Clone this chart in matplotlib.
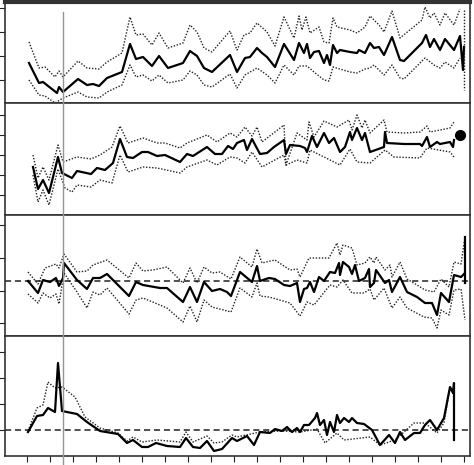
import matplotlib
matplotlib.use("Agg")
import matplotlib.pyplot as plt
from matplotlib.lines import Line2D

# ---- data (x position, y position in chart units) ----
p1_mid_x = [29,39,43,57,59,63,78,87,93,99,107,122,130,136,143,152,159,168,183,190,197,204,212,230,237,245,250,257,262,267,275,284,294,299,304,307,310,314,319,324,327,330,333,337,340,350,357,359,365,370,374,379,384,392,400,404,422,426,430,434,440,445,454,460,463,464]
p1_mid_y = [63,83,82,93,87,92,79,85,84,86,78,72,44,59,57,66,56,68,63,51,56,68,72,55,72,58,57,48,53,57,67,44,60,43,53,44,58,52,51,63,55,65,45,53,50,52,53,50,53,43,48,47,55,37,60,61,43,35,47,39,50,39,50,36,70,47]
p1_up_x = [29,39,45,55,59,63,78,87,99,107,122,130,136,143,152,159,168,183,190,197,204,212,230,237,244,250,257,267,275,284,294,299,302,306,310,319,324,329,333,337,350,357,365,370,379,384,392,400,422,425,430,434,440,445,454,460]
p1_up_y = [42,68,67,77,71,77,61,68,69,62,53,17,35,34,45,33,48,43,25,32,48,52,31,50,35,33,23,32,46,17,38,16,30,17,33,27,42,43,18,27,30,33,27,16,25,32,11,38,20,7,18,13,25,13,25,9]
p1_lo_x = [29,39,45,55,63,78,87,99,107,122,130,136,143,152,159,168,183,190,197,204,212,230,237,245,257,267,275,284,294,299,307,314,324,329,333,350,357,365,370,374,384,392,400,404,425,434,440,445,454,460]
p1_lo_y = [80,95,96,103,98,92,97,98,92,85,65,77,75,81,75,83,80,71,75,85,87,74,88,75,68,75,83,65,75,66,66,72,80,81,67,72,73,69,68,65,75,65,78,79,58,65,68,62,68,58]
p1_spike_x = [464,464]
p1_spike_y = [10,90]

p2_mid_x = [33,38,43,49,58,62,72,77,91,97,105,113,120,127,133,142,148,157,165,180,187,193,207,215,222,228,233,237,244,247,252,260,267,274,284,286,290,300,305,307,312,317,324,329,334,340,345,350,352,357,362,365,370,384,385,387,404,420,422,427,430,437,440,450,453,454]
p2_mid_y = [167,189,180,193,157,173,178,171,174,168,170,163,139,157,158,152,152,156,155,162,154,156,147,154,154,146,149,143,140,150,139,154,153,147,140,154,145,146,148,152,136,147,133,143,138,152,147,132,140,128,140,133,152,147,132,143,144,144,146,137,147,142,144,142,147,140]
p2_up_x = [33,38,43,49,58,63,77,91,100,112,120,128,143,157,165,180,187,207,217,230,237,245,252,257,262,284,286,297,307,309,314,324,337,349,352,357,362,365,370,384,387,404,420,427,430,450,454]
p2_up_y = [155,178,167,180,145,162,157,159,155,147,126,143,138,143,143,148,143,135,142,133,137,127,136,127,142,125,165,133,140,122,137,121,127,120,130,115,128,120,133,120,132,133,132,126,132,128,122]
p2_lo_x = [33,38,43,49,58,65,72,77,91,100,112,120,128,143,157,180,187,207,217,230,237,245,252,262,284,286,297,307,310,324,340,350,357,370,385,394,420,427,450,454]
p2_lo_y = [175,202,190,205,169,188,192,185,187,180,183,155,172,167,168,173,167,160,165,157,158,163,152,167,155,165,160,163,150,157,165,149,162,163,150,157,158,148,152,157]
p2_dot_x = [460]
p2_dot_y = [135]

p3_ref = 281
p3_mid_x = [28,38,43,50,56,59,63,64,77,87,93,100,107,129,136,143,160,167,183,190,197,204,212,220,227,231,240,252,257,260,269,275,284,290,297,300,304,307,310,314,319,324,330,335,339,340,343,349,352,355,359,365,369,370,374,376,385,389,392,400,407,417,425,432,437,441,449,454,461,464]
p3_mid_y = [281,293,280,282,278,286,278,263,280,289,278,278,274,296,282,285,288,288,302,287,302,282,291,289,292,296,272,282,266,281,278,279,285,286,283,302,289,288,282,292,277,281,272,273,263,275,262,267,274,265,281,278,269,287,283,270,283,280,292,277,292,297,303,303,315,293,302,275,277,274]
p3_up_x = [28,38,45,56,59,64,77,87,93,107,129,136,143,153,167,183,190,197,204,212,220,231,240,252,257,262,275,290,297,300,309,319,329,337,340,343,352,357,365,370,374,376,385,390,392,400,407,417,425,434,441,449,454,461,465]
p3_up_y = [272,284,268,264,268,254,272,271,265,260,278,263,271,270,267,283,268,283,267,273,272,279,257,267,249,263,260,270,269,277,258,258,258,243,255,245,248,265,263,257,263,257,270,265,277,262,279,285,290,292,279,287,262,264,237]
p3_lo_x = [28,38,43,50,56,59,64,77,87,93,100,107,129,136,143,167,183,190,197,204,212,231,240,252,257,260,269,290,300,307,314,330,337,343,352,364,370,374,384,392,400,407,424,432,437,441,449,454,461,465]
p3_lo_y = [294,303,293,298,294,304,273,292,308,292,295,288,314,300,298,308,322,306,322,300,307,312,288,297,283,296,297,303,316,302,305,285,287,280,293,293,289,300,288,308,297,308,317,318,328,310,315,290,289,320]
p3_spike_x = [465,465]
p3_spike_y = [237,283]

p4_ref = 430
p4_mid_x = [28,37,43,48,55,58,62,77,87,100,106,118,127,133,142,148,156,167,180,186,193,200,207,214,222,232,237,247,254,260,270,275,282,287,292,297,300,304,309,315,317,320,324,327,330,334,337,340,344,349,352,357,364,372,380,389,395,400,405,414,420,425,430,437,444,450,453,454,454]
p4_mid_y = [432,416,415,408,412,363,411,414,422,431,432,434,443,440,447,447,443,446,447,438,447,448,441,451,449,438,441,436,445,432,433,429,431,427,432,428,432,425,425,418,413,425,420,435,422,432,415,423,418,422,418,423,424,430,445,435,443,432,440,433,433,425,420,430,418,387,393,383,440]
p4_dot_x = [28,37,43,48,55,62,75,85,100,118,127,133,142,157,180,186,193,207,214,222,232,237,260,282,300,317,325,337,344,370,380,395,414,425,437,444,450]
p4_dot_y = [431,408,405,382,388,387,397,417,428,433,441,437,442,440,442,432,442,436,443,442,435,437,432,431,432,429,443,433,440,437,445,440,423,423,433,423,387]

xticks = [27 + 23 * k for k in range(20)]
p1_yticks = [8, 32, 56, 80]
p2_yticks = [115, 135, 155, 175, 195]
p3_yticks = [225, 258, 291, 323]
p4_yticks = [352, 378, 404, 430]

W, H = 474, 465
fig = plt.figure(figsize=(W / 100, H / 100), dpi=100)
rows = [(2, 103), (103, 215), (215, 336), (336, 456)]
L, R = 5, 470
axes = []
for (top, bot) in rows:
    ax = fig.add_axes([L / W, 1 - bot / H, (R - L) / W, (bot - top) / H])
    ax.set_xlim(L, R)
    ax.set_ylim(bot, top)
    ax.tick_params(direction="out", length=4, width=0.8, labelbottom=False, labelleft=False, colors="#222")
    ax.set_xticks(xticks)
    for s in ax.spines.values():
        s.set_linewidth(1.2)
        s.set_color("#333")
    axes.append(ax)
axes[0].spines["top"].set_linewidth(3)

solid = dict(color="black", lw=1.6)
dot = dict(color="#222", lw=1.0, ls=(0, (1, 1.2)))
dash = dict(color="#222", lw=1.1, ls=(0, (4, 2.5)))

a = axes[0]
a.set_yticks(p1_yticks)
a.plot(p1_up_x, p1_up_y, **dot)
a.plot(p1_lo_x, p1_lo_y, **dot)
a.plot(p1_mid_x, p1_mid_y, **solid)
a.plot(p1_spike_x, p1_spike_y, **dot)

a = axes[1]
a.set_yticks(p2_yticks)
a.plot(p2_up_x, p2_up_y, **dot)
a.plot(p2_lo_x, p2_lo_y, **dot)
a.plot(p2_mid_x, p2_mid_y, **solid)
a.plot(p2_dot_x, p2_dot_y, "o", color="black", ms=7)

a = axes[2]
a.set_yticks(p3_yticks)
a.axhline(p3_ref, **dash)
a.plot(p3_up_x, p3_up_y, **dot)
a.plot(p3_lo_x, p3_lo_y, **dot)
a.plot(p3_mid_x, p3_mid_y, **solid)
a.plot(p3_spike_x, p3_spike_y, **solid)

a = axes[3]
a.set_yticks(p4_yticks)
a.axhline(p4_ref, **dash)
a.plot(p4_dot_x, p4_dot_y, **dot)
a.plot(p4_mid_x, p4_mid_y, **solid)

fig.add_artist(Line2D([63 / W, 63 / W], [1 - 12 / H, 0], transform=fig.transFigure,
                      color="#8a9a96", lw=1.0))
fig.savefig("out.png", dpi=100)
